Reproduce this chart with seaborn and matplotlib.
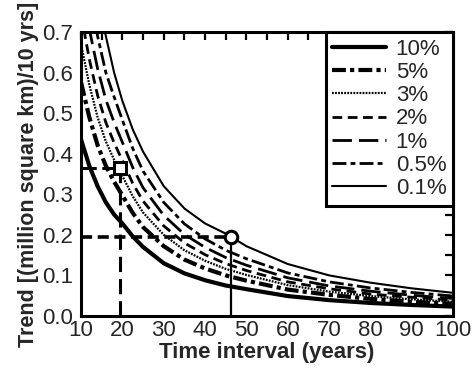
import matplotlib
matplotlib.use("Agg")
import matplotlib.pyplot as plt
import seaborn as sns
import numpy as np
import pandas as pd

# ---- data ----
years = [10, 12, 14, 16, 18, 20, 22.5, 25, 30, 35, 40, 45, 50, 60, 70, 80, 90, 100]
p10   = [0.435, 0.37, 0.32, 0.28, 0.25, 0.228, 0.196, 0.17, 0.13, 0.105, 0.088, 0.075, 0.066, 0.049, 0.039, 0.032, 0.027, 0.023]
p5    = [0.576, 0.49, 0.421, 0.37, 0.331, 0.297, 0.254, 0.219, 0.172, 0.139, 0.117, 0.10, 0.087, 0.065, 0.052, 0.042, 0.035, 0.030]
p3    = [0.67, 0.57, 0.49, 0.43, 0.385, 0.345, 0.295, 0.255, 0.20, 0.162, 0.136, 0.116, 0.101, 0.076, 0.060, 0.049, 0.041, 0.035]
p2    = [0.744, 0.633, 0.544, 0.477, 0.427, 0.383, 0.327, 0.283, 0.222, 0.18, 0.151, 0.129, 0.112, 0.084, 0.067, 0.054, 0.046, 0.039]
p1    = [0.83, 0.707, 0.61, 0.533, 0.477, 0.428, 0.366, 0.316, 0.248, 0.201, 0.169, 0.144, 0.125, 0.094, 0.074, 0.061, 0.051, 0.043]
p05   = [0.94, 0.80, 0.69, 0.60, 0.54, 0.483, 0.413, 0.357, 0.28, 0.227, 0.19, 0.162, 0.141, 0.106, 0.084, 0.069, 0.058, 0.049]
p01   = [1.2, 0.96, 0.80, 0.69, 0.60, 0.53, 0.46, 0.405, 0.32, 0.265, 0.228, 0.203, 0.172, 0.128, 0.100, 0.082, 0.068, 0.057]
labels = ["10%", "5%", "3%", "2%", "1%", "0.5%", "0.1%"]

square_pt = (19.3, 0.365)
circle_pt = (46.3, 0.195)

xticks = [10, 20, 30, 40, 50, 60, 70, 80, 90, 100]
yticks = [0.0, 0.1, 0.2, 0.3, 0.4, 0.5, 0.6, 0.7]

# ---- style ----
sns.set_style("white")
plt.rcParams['font.family'] = ['Liberation Sans', 'DejaVu Sans']
plt.rcParams['font.size'] = 16
plt.rcParams['lines.scale_dashes'] = False

fig = plt.figure(figsize=(4.74, 3.73), dpi=100)
ax = fig.add_axes([0.171, 0.153, 0.785, 0.761])

styles = [
    dict(linewidth=3.0, linestyle='-'),
    dict(linewidth=3.0, linestyle=(0, (10, 3, 3, 3))),
    dict(linewidth=1.6, linestyle=(0, (1.3, 0.9))),
    dict(linewidth=2.0, linestyle=(0, (7, 4))),
    dict(linewidth=2.0, linestyle=(0, (14, 5))),
    dict(linewidth=2.0, linestyle=(0, (10, 3, 3.5, 3))),
    dict(linewidth=1.5, linestyle='-'),
]
series = [p10, p5, p3, p2, p1, p05, p01]

for vals, lab, st in zip(series, labels, styles):
    df = pd.DataFrame({"years": years, "trend": vals})
    sns.lineplot(data=df, x="years", y="trend", ax=ax, color="black",
                 label=lab, **st)

# reference lines and markers
ax.plot([10, square_pt[0]], [square_pt[1], square_pt[1]], color='black',
        lw=2.2, linestyle=(0, (11, 4)))
ax.plot([square_pt[0], square_pt[0]], [0, square_pt[1]], color='black',
        lw=2.2, linestyle=(0, (11, 5)))
ax.plot([10, circle_pt[0]], [circle_pt[1], circle_pt[1]], color='black',
        lw=2.6, linestyle=(0, (8, 4)))
ax.plot([circle_pt[0], circle_pt[0]], [0, circle_pt[1]], color='black', lw=1.6)
ax.plot([square_pt[0]], [square_pt[1]], marker='s', ms=8, mfc='white',
        mec='black', mew=2.2, linestyle='none')
ax.plot([circle_pt[0]], [circle_pt[1]], marker='o', ms=9, mfc='white',
        mec='black', mew=2.2, linestyle='none')

ax.set_xlim(10, 100)
ax.set_ylim(0, 0.7)
ax.set_xticks(xticks)
ax.set_yticks(yticks)
ax.set_xticklabels([str(t) for t in xticks])
ax.set_yticklabels([f"{t:.1f}" for t in yticks])
ax.set_xticks(np.arange(15, 100, 10), minor=True)
ax.set_yticks(np.arange(0.05, 0.7, 0.1), minor=True)
ax.tick_params(which='both', direction='in', top=True, right=True,
               length=5.5, width=1.6, color='black')
ax.tick_params(axis='both', which='major', labelsize=16)
ax.tick_params(axis='y', which='major', pad=6)
ax.tick_params(axis='x', which='major', pad=3)

for s in ax.spines.values():
    s.set_linewidth(2.2)
    s.set_color('black')

ax.set_xlabel("Time interval (years)", fontweight='bold', fontsize=16, labelpad=1)
ax.set_ylabel("Trend [(million square km)/10 yrs]", fontweight='bold',
              fontsize=15.5, labelpad=2)

leg = ax.legend(loc='upper right', borderaxespad=0, fancybox=False,
                frameon=True, edgecolor='black', framealpha=1,
                handlelength=2.4, handletextpad=0.45, labelspacing=0.1,
                borderpad=0.3, fontsize=16)
leg.get_frame().set_linewidth(2.2)

fig.savefig("out.png", dpi=100)
